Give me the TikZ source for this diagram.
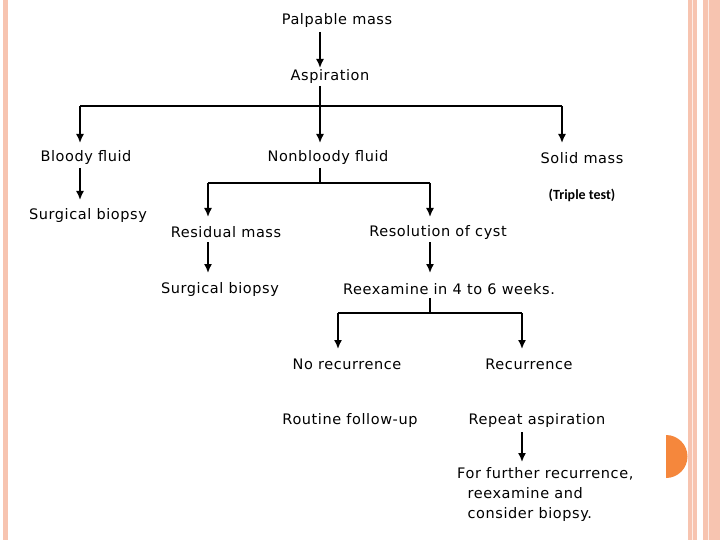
\documentclass[tikz,border=0pt]{standalone}
\usepackage{fontspec}
\setmainfont{DejaVu Sans}[LetterSpace=4]
\newfontfamily\carl{Carlito}
\usetikzlibrary{arrows.meta}
\begin{document}
\begin{tikzpicture}[x=1pt,y=-1pt]

                \tikzstyle{entry} = [inner sep=1pt, font=\fontsize{14.5}{20}\selectfont]
                \tikzstyle{flow} = [draw, line width=1.6pt, -{Latex[length=9pt,width=8pt]}]
                \tikzstyle{line} = [draw, line width=1.6pt]
                \definecolor{band}{RGB}{247,196,176}
                \definecolor{dot}{RGB}{245,135,60}

                \fill[white] (0,0) rectangle (720,540);
                \useasboundingbox (0,0) rectangle (720,540);
                % borders
                \fill[band] (3,0) rectangle (8,540);
                \fill[band] (688,0) rectangle (697,540);
                \fill[band] (703,0) rectangle (720,540);
                \draw[white!70!band, line width=1pt] (692,0) -- (692,540);
                \draw[white!70!band, line width=1pt] (708,0) -- (708,540);
                \begin{scope}
                        \clip (666,430) rectangle (700,485);
                        \fill[dot] (666,456.5) circle (21.5);
                \end{scope}

                \node [entry](palp) at (337,21) {Palpable mass};
                \node [entry](asp) at (330,77) {Aspiration};
                \node [entry](bloody) at (86,158) {Bloody fluid};
                \node [entry](nonb) at (328,158) {Nonbloody fluid};
                \node [entry](solid) at (582,158) {Solid mass};
                \node [inner sep=1pt, font=\carl\bfseries\fontsize{14}{16}\selectfont](triple) at (582,195) {(Triple test)};
                \node [entry](surg1) at (88,215) {Surgical biopsy};
                \node [entry](resid) at (226,232) {Residual mass};
                \node [entry](resol) at (438,232) {Resolution of cyst};
                \node [entry](surg2) at (220,289) {Surgical biopsy};
                \node [entry](reex) at (449,289) {Reexamine in 4 to 6 weeks.};
                \node [entry](norec) at (347,364) {No recurrence};
                \node [entry](rec) at (529,364) {Recurrence};
                \node [entry](routine) at (350,420) {Routine follow-up};
                \node [entry](repeat) at (537,420) {Repeat aspiration};
                \node [entry, align=left, anchor=north west](further) at (456,466) {For further recurrence,\\\ \ reexamine and\\\ \ consider biopsy.};

                \coordinate (j1) at (320,106);
                \coordinate (j2) at (320,183);
                \coordinate (j3) at (430,313);

                \draw [flow] (320,32) -- (320,68);
                \draw [line] (320,86) -- (j1);
                \draw [line] (80,106) -- (562,106);
                \foreach \x in {80,320,562}
                        \draw [flow] (\x,106) -- (\x,143);

                \draw [flow] (80,168) -- (80,200);

                \draw [line] (320,168) -- (j2);
                \draw [line] (208,183) -- (430,183);
                \foreach \x in {208,430}
                {
                        \draw [flow] (\x,183) -- (\x,217);
                        \draw [flow] (\x,242) -- (\x,273);
                }

                \draw [line] (430,298) -- (j3);
                \draw [line] (338,313) -- (522,313);
                \foreach \x in {338,522}
                        \draw [flow] (\x,313) -- (\x,349);

                \draw [flow] (522,432) -- (522,462);

\end{tikzpicture}
\end{document}
